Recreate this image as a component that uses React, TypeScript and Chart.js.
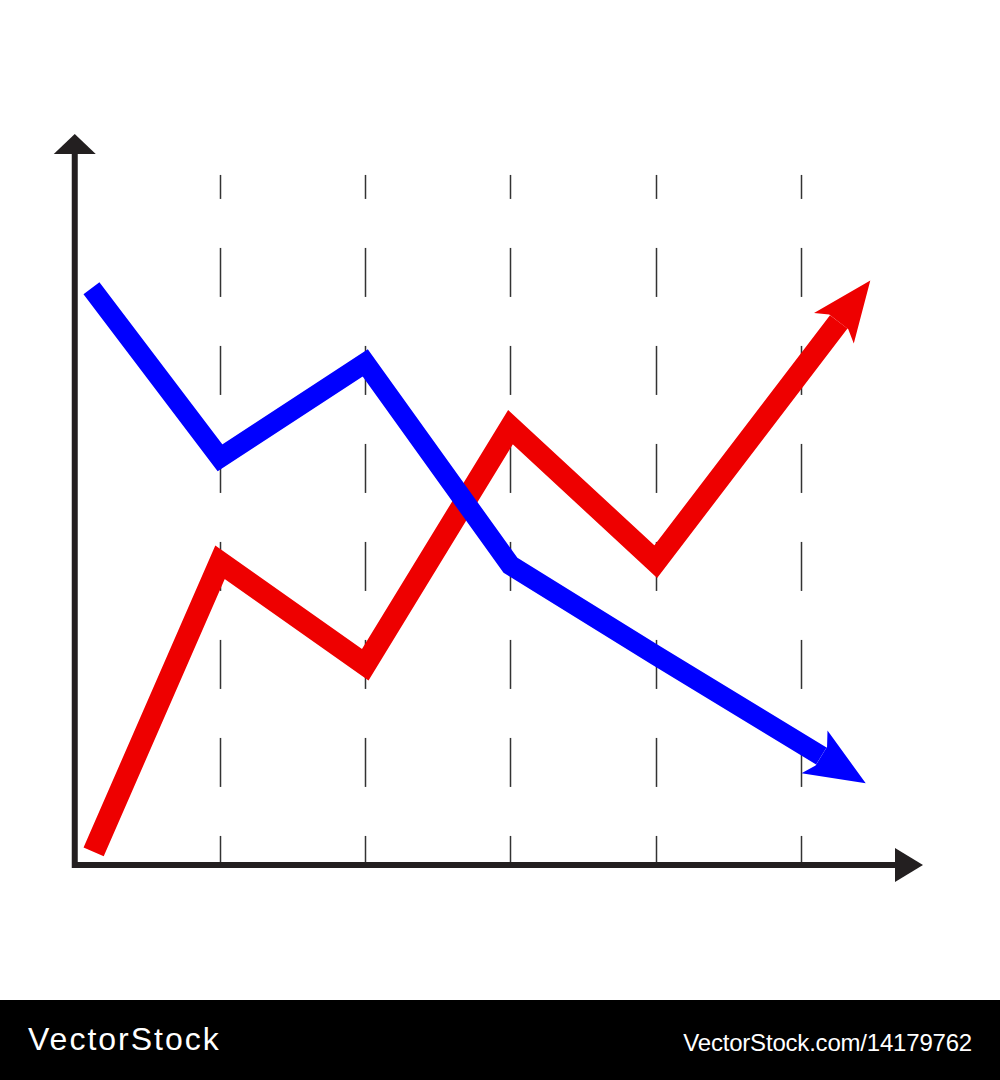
import React, { useEffect, useRef } from "react";
import { Chart, registerables } from "chart.js";

Chart.register(...registerables);

// Data (x positions: gridline index, y: relative level 0..100)
const redX = [0.13, 1, 2, 3, 4, 5.26];
const redY = [1.8, 41.4, 27.4, 59.9, 41.5, 74.3];
const blueX = [0.115, 1, 2, 3, 4, 5.14];
const blueY = [78.9, 55.7, 68.7, 41.0, 28.7, 14.9];
const gridTicks = [1, 2, 3, 4, 5];
const gridTop = 94.4;

const AXIS_COLOR = "#231f20";
const RED = "#ee0000";
const BLUE = "#0000ff";

const decorPlugin = {
  id: "decor",
  beforeDatasetsDraw(chart: any) {
    const { ctx, chartArea, scales } = chart;
    const xs = scales.x;
    const ys = scales.y;
    const x0 = xs.getPixelForValue(0);
    const y0 = ys.getPixelForValue(0);
    // dashed gridlines
    ctx.save();
    ctx.strokeStyle = "#333";
    ctx.lineWidth = 1.5;
    ctx.setLineDash([49, 49]);
    ctx.lineDashOffset = 25;
    for (const t of gridTicks) {
      const px = Math.round(xs.getPixelForValue(t)) + 0.5;
      ctx.beginPath();
      ctx.moveTo(px, ys.getPixelForValue(gridTop));
      ctx.lineTo(px, y0);
      ctx.stroke();
    }
    ctx.restore();
    // axes
    ctx.save();
    ctx.strokeStyle = AXIS_COLOR;
    ctx.fillStyle = AXIS_COLOR;
    ctx.lineWidth = 6;
    ctx.lineCap = "butt";
    ctx.beginPath();
    ctx.moveTo(x0, y0 + 3);
    ctx.lineTo(x0, chartArea.top + 20);
    ctx.moveTo(x0 - 3, y0);
    ctx.lineTo(chartArea.right - 28, y0);
    ctx.stroke();
    // y arrow
    ctx.beginPath();
    ctx.moveTo(x0, chartArea.top);
    ctx.lineTo(x0 + 21, chartArea.top + 20);
    ctx.lineTo(x0 - 21, chartArea.top + 20);
    ctx.closePath();
    ctx.fill();
    // x arrow
    ctx.beginPath();
    ctx.moveTo(chartArea.right, y0);
    ctx.lineTo(chartArea.right - 28, y0 - 17);
    ctx.lineTo(chartArea.right - 28, y0 + 17);
    ctx.closePath();
    ctx.fill();
    ctx.restore();
  },
  afterDatasetsDraw(chart: any) {
    const { ctx } = chart;
    chart.data.datasets.forEach((ds: any, i: number) => {
      const meta = chart.getDatasetMeta(i);
      const pts = meta.data;
      const n = pts.length;
      if (n < 2) return;
      const e = pts[n - 1];
      const p = pts[n - 2];
      let ux = e.x - p.x;
      let uy = e.y - p.y;
      const len = Math.hypot(ux, uy);
      ux /= len;
      uy /= len;
      const vx = -uy;
      const vy = ux;
      const half = ds.borderWidth / 2 + 1;
      const pt = (a: number, b: number) => [e.x + ux * a + vx * b, e.y + uy * a + vy * b];
      const shape = [
        pt(0, half),
        pt(-8, 25),
        pt(52, 0),
        pt(-8, -25),
        pt(0, -half),
      ];
      ctx.save();
      ctx.fillStyle = ds.borderColor;
      ctx.beginPath();
      shape.forEach((q, k) => (k === 0 ? ctx.moveTo(q[0], q[1]) : ctx.lineTo(q[0], q[1])));
      ctx.closePath();
      ctx.fill();
      ctx.restore();
    });
  },
};

export default function App() {
  const ref = useRef<HTMLCanvasElement | null>(null);
  useEffect(() => {
    document.body.style.margin = "0";
    if (!ref.current) return;
    const chart = new Chart(ref.current, {
      type: "line",
      data: {
        datasets: [
          {
            label: "Blue",
            data: blueX.map((x, i) => ({ x, y: blueY[i] })),
            borderColor: BLUE,
            borderWidth: 20,
            borderJoinStyle: "miter",
            borderCapStyle: "butt",
            pointRadius: 0,
            tension: 0,
            fill: false,
            clip: false as any,
          },
          {
            label: "Red",
            data: redX.map((x, i) => ({ x, y: redY[i] })),
            borderColor: RED,
            borderWidth: 22,
            borderJoinStyle: "miter",
            borderCapStyle: "butt",
            pointRadius: 0,
            tension: 0,
            fill: false,
            clip: false as any,
          },
        ],
      },
      options: {
        animation: false,
        responsive: false,
        devicePixelRatio: 1,
        layout: { padding: { left: 74.75, right: 77, top: 134, bottom: 135 } },
        plugins: { legend: { display: false }, tooltip: { enabled: false } },
        events: [],
        scales: {
          x: { type: "linear", min: 0, max: 5.84, display: false },
          y: { type: "linear", min: 0, max: 100, display: false },
        },
      },
      plugins: [decorPlugin],
    } as any);
    return () => chart.destroy();
  }, []);

  return (
    <div style={{ position: "absolute", left: 0, top: 0, width: 1000, height: 1080, background: "#fff" }}>
      <canvas ref={ref} width={1000} height={1000} style={{ display: "block", width: 1000, height: 1000 }} />
      <div style={{ position: "absolute", left: 0, top: 1000, width: 1000, height: 80, background: "#000" }}>
        <span
          style={{
            position: "absolute",
            left: 28,
            top: 23,
            fontFamily: "'Liberation Sans', Arial, sans-serif",
            fontSize: 32,
            lineHeight: "32px",
            letterSpacing: 2,
            color: "#fff",
            whiteSpace: "nowrap",
          }}
        >
          VectorStock
        </span>
        <span
          style={{
            position: "absolute",
            right: 28,
            top: 31,
            fontFamily: "'Liberation Sans', Arial, sans-serif",
            fontSize: 24,
            lineHeight: "24px",
            letterSpacing: -0.2,
            color: "#fff",
            whiteSpace: "nowrap",
          }}
        >
          VectorStock.com/14179762
        </span>
      </div>
    </div>
  );
}
